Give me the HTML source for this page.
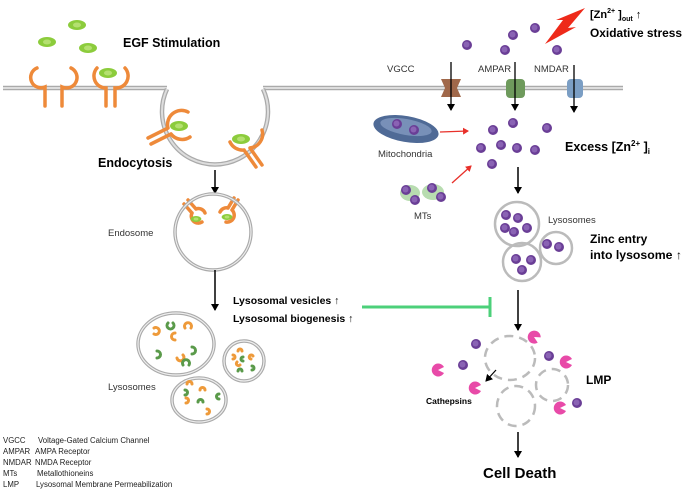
<!DOCTYPE html>
<html><head><meta charset="utf-8"><style>
html,body{margin:0;padding:0;background:#fff;}
svg{display:block;font-family:"Liberation Sans",sans-serif;}
.b{font-weight:bold;}
</style></head><body>
<svg width="685" height="493" viewBox="0 0 685 493" xmlns="http://www.w3.org/2000/svg">
<defs>
<marker id="ah" markerWidth="8" markerHeight="8" refX="6" refY="4" orient="auto" markerUnits="userSpaceOnUse"><path d="M0,0 L7,4 L0,8 z" fill="#000"/></marker>
<marker id="ar" markerWidth="7" markerHeight="7" refX="5" refY="3.5" orient="auto" markerUnits="userSpaceOnUse"><path d="M0,0 L6,3.5 L0,7 z" fill="#e8302a"/></marker>
<g id="zn"><circle r="5" fill="#6a3e96"/><circle r="3" cx="-0.5" cy="-0.5" fill="#8a63b4"/></g>
<g id="egf"><ellipse rx="9" ry="5" fill="#8ccc3c"/><ellipse rx="4" ry="2.5" fill="#b4e070"/></g>
<g id="cat"><path d="M0,0 L6,-3 A6.5,6.5 0 1 0 6,3 z" fill="#e84aa8"/></g>
</defs>

<g fill="none">
<path d="M3,88 H167" stroke-width="4.5" stroke="#aaa"/>
<path d="M3,88 H167" stroke-width="2" stroke="#ddd"/>
<path d="M263,88 H623" stroke-width="4.5" stroke="#aaa"/>
<path d="M263,88 H623" stroke-width="2" stroke="#ddd"/>
<path d="M167,89 A53,53 0 1 0 263,89" stroke-width="4.5" stroke="#aaa"/>
<path d="M167,89 A53,53 0 1 0 263,89" stroke-width="2" stroke="#ddd"/>
</g>

<use href="#egf" x="77" y="25"/><use href="#egf" x="47" y="42"/><use href="#egf" x="88" y="48"/>
<text x="123" y="47" font-size="12.5" class="b">EGF Stimulation</text>

<g stroke="#ee8a3a" stroke-width="3.5" fill="none" stroke-linecap="round">
<path d="M37,68 A10,10 0 0 0 45,87 V106"/>
<path d="M71,68 A10,10 0 0 1 62,87 V106"/>
<path d="M97,68 A12,12 0 0 0 106,88 V106 M125,68 A12,12 0 0 1 115,88 V106"/>
<path d="M148,138 L168,128 M151,144 L171,134 M168,128 A14,14 0 0 1 188,112 M171,134 A14,14 0 0 0 190,137"/>
<path d="M262,165 L250,148 M256,167 L244,150 M250,148 A14,14 0 0 0 262,130 M244,150 A14,14 0 0 1 230,142"/>
<path d="M184,204 L192,213 M188,200 L196,209 M192,213 A7,7 0 0 0 202,222 M196,209 A7,7 0 0 1 205,213"/>
<path d="M238,200 L232,210 M234,198 L228,208 M232,210 A7,7 0 0 1 226,222 M228,208 A7,7 0 0 0 220,212"/>
</g>
<use href="#egf" x="108" y="73"/>
<use href="#egf" x="179" y="126"/>
<use href="#egf" x="241" y="139"/>
<g transform="translate(196,219) scale(.6)"><use href="#egf"/></g>
<g transform="translate(227,217) scale(.6)"><use href="#egf"/></g>

<text x="98" y="167" font-size="12.5" class="b">Endocytosis</text>
<line x1="215" y1="170" x2="215" y2="193" stroke="#000" stroke-width="1.5" marker-end="url(#ah)"/>

<circle cx="213" cy="232" r="38" fill="none" stroke="#aaa" stroke-width="3.5"/>
<circle cx="213" cy="232" r="38" fill="none" stroke="#eee" stroke-width="1.2"/>
<text x="108" y="236" font-size="9.5" fill="#333">Endosome</text>
<line x1="215" y1="270" x2="215" y2="310" stroke="#000" stroke-width="1.5" marker-end="url(#ah)"/>
<text x="233" y="304" font-size="10.5" class="b">Lysosomal vesicles ↑</text>
<text x="233" y="322" font-size="10.5" class="b">Lysosomal biogenesis ↑</text>

<g fill="none" stroke="#aaa" stroke-width="3.5">
<ellipse cx="176" cy="344" rx="38" ry="31"/>
<circle cx="244" cy="361" r="20"/>
<ellipse cx="199" cy="400" rx="27" ry="22"/>
</g>
<g fill="none" stroke="#eee" stroke-width="1.2">
<ellipse cx="176" cy="344" rx="38" ry="31"/>
<circle cx="244" cy="361" r="20"/>
<ellipse cx="199" cy="400" rx="27" ry="22"/>
</g>
<g stroke-width="3" fill="none" stroke-linecap="round">
<g stroke="#ee9a3a">
<path d="M154,328 a3.5,3.5 0 1 1 0,6"/><path d="M191,328 a3.5,3.5 0 1 0 -6,0"/><path d="M175,333 a3.5,3.5 0 1 0 0,7"/><path d="M183,355 a3.5,3.5 0 1 1 -6,3"/>
<path d="M233,355 a2,2 0 1 1 0,4"/><path d="M242,351 a2,2 0 1 0 -4,0"/><path d="M237,362 a2,2 0 1 0 3,3"/><path d="M253,356 a2,2 0 1 0 -2,3"/>
<path d="M187,384 a2.5,2.5 0 1 1 5,0"/><path d="M200,390 a2.5,2.5 0 1 1 5,0"/><path d="M186,398 a2.5,2.5 0 1 1 0,5"/><path d="M207,409 a2.5,2.5 0 1 1 0,5"/>
</g>
<g stroke="#5a9a4a">
<path d="M168,323 a3.5,3.5 0 1 0 5,0"/><path d="M157,351 a3.5,3.5 0 1 1 0,7"/><path d="M192,347 a3.5,3.5 0 1 1 0,7"/><path d="M183,365 a3.5,3.5 0 1 1 6,0"/>
<path d="M243,357 a2,2 0 1 0 0,4"/><path d="M252,366 a2,2 0 1 1 0,4"/><path d="M238,371 a2,2 0 1 1 4,0"/>
<path d="M185,390 a2.5,2.5 0 1 1 0,5"/><path d="M198,402 a2.5,2.5 0 1 1 5,0"/><path d="M219,394 a2.5,2.5 0 1 0 0,5"/>
</g>
</g>
<text x="108" y="390" font-size="9.5" fill="#333">Lysosomes</text>

<g font-size="7.8" fill="#222">
<text x="3" y="443">VGCC</text><text x="38" y="443">Voltage-Gated Calcium Channel</text>
<text x="3" y="454">AMPAR</text><text x="35" y="454">AMPA Receptor</text>
<text x="3" y="465">NMDAR</text><text x="35" y="465">NMDA Receptor</text>
<text x="3" y="476">MTs</text><text x="37" y="476">Metallothioneins</text>
<text x="3" y="487">LMP</text><text x="36" y="487">Lysosomal Membrane Permeabilization</text>
</g>

<line x1="362" y1="307" x2="490" y2="307" stroke="#4cd07a" stroke-width="3"/>
<line x1="490" y1="297" x2="490" y2="317" stroke="#4cd07a" stroke-width="3"/>

<path d="M545,44 L563,20 L556,20 L585,8 L568,28 L576,27 Z" fill="#ee2a1a"/>
<text x="590" y="18" font-size="11" class="b">[Zn<tspan font-size="7" dy="-5">2+</tspan><tspan dy="5"> ]</tspan><tspan font-size="7" dy="3">out</tspan><tspan dy="-3"> ↑</tspan></text>
<text x="590" y="37" font-size="11.5" class="b" textLength="92" lengthAdjust="spacingAndGlyphs">Oxidative stress</text>

<use href="#zn" x="467" y="45"/><use href="#zn" x="513" y="35"/><use href="#zn" x="535" y="28"/><use href="#zn" x="505" y="50"/><use href="#zn" x="557" y="50"/>

<path d="M441,79 L461,79 L457,88 L461,97 L441,97 L445,88 Z" fill="#a0684a"/>
<rect x="506" y="79" width="19" height="19" rx="4" fill="#6e9a5c"/>
<rect x="567" y="79" width="16" height="19" rx="4" fill="#7b9ec4"/>
<g font-size="9.5" fill="#333"><text x="387" y="72">VGCC</text><text x="478" y="72">AMPAR</text><text x="534" y="72">NMDAR</text></g>
<g stroke="#000" stroke-width="1.3" marker-end="url(#ah)">
<line x1="451" y1="62" x2="451" y2="110"/><line x1="515" y1="62" x2="515" y2="110"/><line x1="574" y1="65" x2="574" y2="112"/>
</g>

<ellipse cx="406" cy="129" rx="33" ry="13" transform="rotate(10 406 129)" fill="#4f6a96"/>
<ellipse cx="406" cy="127" rx="26" ry="8" transform="rotate(10 406 127)" fill="#7890b8"/>
<use href="#zn" x="397" y="124"/><use href="#zn" x="414" y="130"/>
<text x="378" y="157" font-size="9.5" fill="#333">Mitochondria</text>
<line x1="440" y1="132" x2="468" y2="131" stroke="#e8302a" stroke-width="1.3" marker-end="url(#ar)"/>
<line x1="452" y1="183" x2="471" y2="166" stroke="#e8302a" stroke-width="1.3" marker-end="url(#ar)"/>

<ellipse cx="410" cy="193" rx="10" ry="8" fill="#b8dcb0"/><ellipse cx="433" cy="192" rx="11" ry="8" fill="#b8dcb0"/>
<use href="#zn" x="406" y="190"/><use href="#zn" x="415" y="200"/><use href="#zn" x="432" y="188"/><use href="#zn" x="441" y="197"/>
<text x="414" y="219" font-size="9.5" fill="#333">MTs</text>

<use href="#zn" x="513" y="123"/><use href="#zn" x="493" y="130"/><use href="#zn" x="547" y="128"/><use href="#zn" x="481" y="148"/><use href="#zn" x="501" y="145"/><use href="#zn" x="517" y="148"/><use href="#zn" x="535" y="150"/><use href="#zn" x="492" y="164"/>
<text x="565" y="151" font-size="12.5" class="b">Excess [Zn<tspan font-size="8" dy="-5">2+</tspan><tspan dy="5"> ]</tspan><tspan font-size="8" dy="3">i</tspan></text>
<line x1="518" y1="167" x2="518" y2="193" stroke="#000" stroke-width="1.5" marker-end="url(#ah)"/>

<g fill="none" stroke="#bbb" stroke-width="2.5">
<circle cx="517" cy="224" r="22"/><circle cx="556" cy="248" r="16"/><circle cx="522" cy="262" r="19"/>
</g>
<use href="#zn" x="506" y="215"/><use href="#zn" x="518" y="218"/><use href="#zn" x="505" y="228"/><use href="#zn" x="514" y="232"/><use href="#zn" x="527" y="228"/>
<use href="#zn" x="547" y="244"/><use href="#zn" x="559" y="247"/>
<use href="#zn" x="516" y="259"/><use href="#zn" x="531" y="260"/><use href="#zn" x="522" y="270"/>
<text x="548" y="223" font-size="9.5" fill="#333">Lysosomes</text>
<text x="590" y="243" font-size="12" class="b">Zinc entry</text>
<text x="590" y="259" font-size="12" class="b" textLength="92" lengthAdjust="spacingAndGlyphs">into lysosome ↑</text>
<line x1="518" y1="290" x2="518" y2="330" stroke="#000" stroke-width="1.5" marker-end="url(#ah)"/>

<g fill="none" stroke="#bbb" stroke-width="2.5" stroke-dasharray="9,6">
<ellipse cx="510" cy="358" rx="25" ry="22"/><circle cx="552" cy="385" r="16"/><ellipse cx="516" cy="406" rx="19" ry="20"/>
</g>
<use href="#cat" x="534" y="337" transform="rotate(30 534 337)"/>
<use href="#cat" x="566" y="362"/><use href="#cat" x="438" y="370"/><use href="#cat" x="475" y="388"/><use href="#cat" x="560" y="408"/>
<use href="#zn" x="476" y="344"/><use href="#zn" x="463" y="365"/><use href="#zn" x="549" y="356"/><use href="#zn" x="577" y="403"/>
<line x1="496" y1="370" x2="486" y2="381" stroke="#000" stroke-width="1.2" marker-end="url(#ah)"/>
<text x="426" y="404" font-size="8.5" class="b">Cathepsins</text>
<text x="586" y="384" font-size="12" class="b">LMP</text>
<line x1="518" y1="432" x2="518" y2="457" stroke="#000" stroke-width="1.5" marker-end="url(#ah)"/>
<text x="483" y="478" font-size="15" class="b">Cell Death</text>
</svg>
</body></html>
